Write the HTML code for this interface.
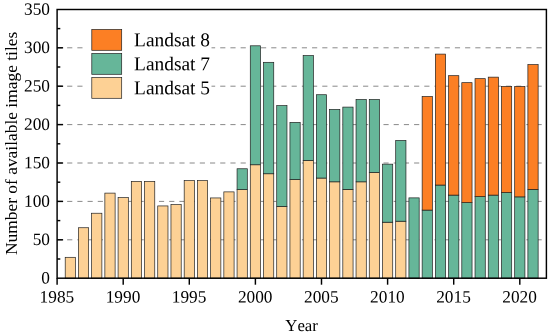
<!DOCTYPE html><html><head><meta charset="utf-8"><title>Landsat tiles</title>
<style>html,body{margin:0;padding:0;background:#fff}svg{display:block}text{font-family:"Liberation Serif","Times New Roman",serif;fill:#000;font-kerning:none}</style></head><body>
<svg width="550" height="335" viewBox="0 0 550 335">
<rect width="550" height="335" fill="#fff"/>
<line x1="56.95" x2="546.40" y1="239.80" y2="239.80" stroke="#7c7c7c" stroke-width="0.9" stroke-dasharray="5.15 5.054"/>
<line x1="56.95" x2="546.40" y1="201.40" y2="201.40" stroke="#7c7c7c" stroke-width="0.9" stroke-dasharray="5.15 5.054"/>
<line x1="56.95" x2="546.40" y1="163.00" y2="163.00" stroke="#7c7c7c" stroke-width="0.9" stroke-dasharray="5.15 5.054"/>
<line x1="56.95" x2="546.40" y1="124.60" y2="124.60" stroke="#7c7c7c" stroke-width="0.9" stroke-dasharray="5.15 5.054"/>
<line x1="56.95" x2="546.40" y1="86.20" y2="86.20" stroke="#7c7c7c" stroke-width="0.9" stroke-dasharray="5.15 5.054"/>
<line x1="56.95" x2="546.40" y1="47.80" y2="47.80" stroke="#7c7c7c" stroke-width="0.9" stroke-dasharray="5.15 5.054"/>
<rect x="65.20" y="257.31" width="10.25" height="20.89" fill="#fdd195" stroke="#1c1c1c" stroke-width="0.68"/>
<rect x="78.42" y="227.74" width="10.25" height="50.46" fill="#fdd195" stroke="#1c1c1c" stroke-width="0.68"/>
<rect x="91.64" y="213.23" width="10.25" height="64.97" fill="#fdd195" stroke="#1c1c1c" stroke-width="0.68"/>
<rect x="104.86" y="193.11" width="10.25" height="85.09" fill="#fdd195" stroke="#1c1c1c" stroke-width="0.68"/>
<rect x="118.08" y="197.64" width="10.25" height="80.56" fill="#fdd195" stroke="#1c1c1c" stroke-width="0.68"/>
<rect x="131.30" y="181.36" width="10.25" height="96.84" fill="#fdd195" stroke="#1c1c1c" stroke-width="0.68"/>
<rect x="144.52" y="181.36" width="10.25" height="96.84" fill="#fdd195" stroke="#1c1c1c" stroke-width="0.68"/>
<rect x="157.74" y="205.93" width="10.25" height="72.27" fill="#fdd195" stroke="#1c1c1c" stroke-width="0.68"/>
<rect x="170.96" y="204.63" width="10.25" height="73.57" fill="#fdd195" stroke="#1c1c1c" stroke-width="0.68"/>
<rect x="184.18" y="180.59" width="10.25" height="97.61" fill="#fdd195" stroke="#1c1c1c" stroke-width="0.68"/>
<rect x="197.40" y="180.59" width="10.25" height="97.61" fill="#fdd195" stroke="#1c1c1c" stroke-width="0.68"/>
<rect x="210.62" y="197.94" width="10.25" height="80.26" fill="#fdd195" stroke="#1c1c1c" stroke-width="0.68"/>
<rect x="223.84" y="191.88" width="10.25" height="86.32" fill="#fdd195" stroke="#1c1c1c" stroke-width="0.68"/>
<rect x="237.06" y="189.65" width="10.25" height="88.55" fill="#fdd195" stroke="#1c1c1c" stroke-width="0.68"/>
<rect x="250.28" y="164.77" width="10.25" height="113.43" fill="#fdd195" stroke="#1c1c1c" stroke-width="0.68"/>
<rect x="263.50" y="173.75" width="10.25" height="104.45" fill="#fdd195" stroke="#1c1c1c" stroke-width="0.68"/>
<rect x="276.72" y="206.39" width="10.25" height="71.81" fill="#fdd195" stroke="#1c1c1c" stroke-width="0.68"/>
<rect x="289.94" y="179.51" width="10.25" height="98.69" fill="#fdd195" stroke="#1c1c1c" stroke-width="0.68"/>
<rect x="303.16" y="160.47" width="10.25" height="117.73" fill="#fdd195" stroke="#1c1c1c" stroke-width="0.68"/>
<rect x="316.38" y="178.05" width="10.25" height="100.15" fill="#fdd195" stroke="#1c1c1c" stroke-width="0.68"/>
<rect x="329.60" y="181.82" width="10.25" height="96.38" fill="#fdd195" stroke="#1c1c1c" stroke-width="0.68"/>
<rect x="342.82" y="189.34" width="10.25" height="88.86" fill="#fdd195" stroke="#1c1c1c" stroke-width="0.68"/>
<rect x="356.04" y="181.82" width="10.25" height="96.38" fill="#fdd195" stroke="#1c1c1c" stroke-width="0.68"/>
<rect x="369.26" y="172.45" width="10.25" height="105.75" fill="#fdd195" stroke="#1c1c1c" stroke-width="0.68"/>
<rect x="382.48" y="222.21" width="10.25" height="55.99" fill="#fdd195" stroke="#1c1c1c" stroke-width="0.68"/>
<rect x="395.70" y="221.21" width="10.25" height="56.99" fill="#fdd195" stroke="#1c1c1c" stroke-width="0.68"/>
<rect x="237.06" y="168.76" width="10.25" height="20.89" fill="#66b699" stroke="#1c1c1c" stroke-width="0.68"/>
<rect x="250.28" y="45.80" width="10.25" height="118.96" fill="#66b699" stroke="#1c1c1c" stroke-width="0.68"/>
<rect x="263.50" y="62.32" width="10.25" height="111.44" fill="#66b699" stroke="#1c1c1c" stroke-width="0.68"/>
<rect x="276.72" y="105.63" width="10.25" height="100.76" fill="#66b699" stroke="#1c1c1c" stroke-width="0.68"/>
<rect x="289.94" y="122.37" width="10.25" height="57.14" fill="#66b699" stroke="#1c1c1c" stroke-width="0.68"/>
<rect x="303.16" y="55.56" width="10.25" height="104.91" fill="#66b699" stroke="#1c1c1c" stroke-width="0.68"/>
<rect x="316.38" y="94.72" width="10.25" height="83.33" fill="#66b699" stroke="#1c1c1c" stroke-width="0.68"/>
<rect x="329.60" y="109.39" width="10.25" height="72.42" fill="#66b699" stroke="#1c1c1c" stroke-width="0.68"/>
<rect x="342.82" y="107.09" width="10.25" height="82.25" fill="#66b699" stroke="#1c1c1c" stroke-width="0.68"/>
<rect x="356.04" y="99.49" width="10.25" height="82.33" fill="#66b699" stroke="#1c1c1c" stroke-width="0.68"/>
<rect x="369.26" y="99.49" width="10.25" height="72.96" fill="#66b699" stroke="#1c1c1c" stroke-width="0.68"/>
<rect x="382.48" y="164.15" width="10.25" height="58.06" fill="#66b699" stroke="#1c1c1c" stroke-width="0.68"/>
<rect x="395.70" y="140.42" width="10.25" height="80.79" fill="#66b699" stroke="#1c1c1c" stroke-width="0.68"/>
<rect x="408.92" y="197.87" width="10.25" height="80.33" fill="#66b699" stroke="#1c1c1c" stroke-width="0.68"/>
<rect x="422.14" y="210.08" width="10.25" height="68.12" fill="#66b699" stroke="#1c1c1c" stroke-width="0.68"/>
<rect x="435.36" y="185.04" width="10.25" height="93.16" fill="#66b699" stroke="#1c1c1c" stroke-width="0.68"/>
<rect x="448.58" y="195.10" width="10.25" height="83.10" fill="#66b699" stroke="#1c1c1c" stroke-width="0.68"/>
<rect x="461.80" y="202.63" width="10.25" height="75.57" fill="#66b699" stroke="#1c1c1c" stroke-width="0.68"/>
<rect x="475.02" y="196.64" width="10.25" height="81.56" fill="#66b699" stroke="#1c1c1c" stroke-width="0.68"/>
<rect x="488.24" y="195.10" width="10.25" height="83.10" fill="#66b699" stroke="#1c1c1c" stroke-width="0.68"/>
<rect x="501.46" y="192.57" width="10.25" height="85.63" fill="#66b699" stroke="#1c1c1c" stroke-width="0.68"/>
<rect x="514.68" y="196.87" width="10.25" height="81.33" fill="#66b699" stroke="#1c1c1c" stroke-width="0.68"/>
<rect x="527.89" y="189.34" width="10.25" height="88.86" fill="#66b699" stroke="#1c1c1c" stroke-width="0.68"/>
<rect x="422.14" y="96.49" width="10.25" height="113.59" fill="#fc7f24" stroke="#1c1c1c" stroke-width="0.68"/>
<rect x="435.36" y="54.10" width="10.25" height="130.94" fill="#fc7f24" stroke="#1c1c1c" stroke-width="0.68"/>
<rect x="448.58" y="75.68" width="10.25" height="119.42" fill="#fc7f24" stroke="#1c1c1c" stroke-width="0.68"/>
<rect x="461.80" y="82.67" width="10.25" height="119.96" fill="#fc7f24" stroke="#1c1c1c" stroke-width="0.68"/>
<rect x="475.02" y="78.67" width="10.25" height="117.96" fill="#fc7f24" stroke="#1c1c1c" stroke-width="0.68"/>
<rect x="488.24" y="77.14" width="10.25" height="117.96" fill="#fc7f24" stroke="#1c1c1c" stroke-width="0.68"/>
<rect x="501.46" y="86.43" width="10.25" height="106.14" fill="#fc7f24" stroke="#1c1c1c" stroke-width="0.68"/>
<rect x="514.68" y="86.43" width="10.25" height="110.44" fill="#fc7f24" stroke="#1c1c1c" stroke-width="0.68"/>
<rect x="527.89" y="64.62" width="10.25" height="124.72" fill="#fc7f24" stroke="#1c1c1c" stroke-width="0.68"/>
<line x1="57.10" x2="60.30" y1="259.00" y2="259.00" stroke="#000" stroke-width="1.45"/>
<line x1="57.10" x2="63.10" y1="239.80" y2="239.80" stroke="#000" stroke-width="1.45"/>
<line x1="57.10" x2="60.30" y1="220.60" y2="220.60" stroke="#000" stroke-width="1.45"/>
<line x1="57.10" x2="63.10" y1="201.40" y2="201.40" stroke="#000" stroke-width="1.45"/>
<line x1="57.10" x2="60.30" y1="182.20" y2="182.20" stroke="#000" stroke-width="1.45"/>
<line x1="57.10" x2="63.10" y1="163.00" y2="163.00" stroke="#000" stroke-width="1.45"/>
<line x1="57.10" x2="60.30" y1="143.80" y2="143.80" stroke="#000" stroke-width="1.45"/>
<line x1="57.10" x2="63.10" y1="124.60" y2="124.60" stroke="#000" stroke-width="1.45"/>
<line x1="57.10" x2="60.30" y1="105.40" y2="105.40" stroke="#000" stroke-width="1.45"/>
<line x1="57.10" x2="63.10" y1="86.20" y2="86.20" stroke="#000" stroke-width="1.45"/>
<line x1="57.10" x2="60.30" y1="67.00" y2="67.00" stroke="#000" stroke-width="1.45"/>
<line x1="57.10" x2="63.10" y1="47.80" y2="47.80" stroke="#000" stroke-width="1.45"/>
<line x1="57.10" x2="60.30" y1="28.60" y2="28.60" stroke="#000" stroke-width="1.45"/>
<line x1="57.10" x2="57.10" y1="278.20" y2="284.70" stroke="#000" stroke-width="1.45"/>
<line x1="123.20" x2="123.20" y1="278.20" y2="284.70" stroke="#000" stroke-width="1.45"/>
<line x1="189.30" x2="189.30" y1="278.20" y2="284.70" stroke="#000" stroke-width="1.45"/>
<line x1="255.40" x2="255.40" y1="278.20" y2="284.70" stroke="#000" stroke-width="1.45"/>
<line x1="321.50" x2="321.50" y1="278.20" y2="284.70" stroke="#000" stroke-width="1.45"/>
<line x1="387.60" x2="387.60" y1="278.20" y2="284.70" stroke="#000" stroke-width="1.45"/>
<line x1="453.70" x2="453.70" y1="278.20" y2="284.70" stroke="#000" stroke-width="1.45"/>
<line x1="519.80" x2="519.80" y1="278.20" y2="284.70" stroke="#000" stroke-width="1.45"/>
<rect x="57.10" y="9.50" width="489.30" height="268.70" fill="none" stroke="#000" stroke-width="1.45"/>
<text transform="translate(49.95,283.50) rotate(0.1)" font-size="17.3" text-anchor="end">0</text>
<text transform="translate(49.95,245.10) rotate(0.1)" font-size="17.3" text-anchor="end">50</text>
<text transform="translate(49.95,206.70) rotate(0.1)" font-size="17.3" text-anchor="end">100</text>
<text transform="translate(49.95,168.30) rotate(0.1)" font-size="17.3" text-anchor="end">150</text>
<text transform="translate(49.95,129.90) rotate(0.1)" font-size="17.3" text-anchor="end">200</text>
<text transform="translate(49.95,91.50) rotate(0.1)" font-size="17.3" text-anchor="end">250</text>
<text transform="translate(49.95,53.10) rotate(0.1)" font-size="17.3" text-anchor="end">300</text>
<text transform="translate(49.95,14.70) rotate(0.1)" font-size="17.3" text-anchor="end">350</text>
<text transform="translate(56.90,302.50) rotate(0.1)" font-size="17.3" text-anchor="middle">1985</text>
<text transform="translate(123.00,302.50) rotate(0.1)" font-size="17.3" text-anchor="middle">1990</text>
<text transform="translate(189.10,302.50) rotate(0.1)" font-size="17.3" text-anchor="middle">1995</text>
<text transform="translate(255.20,302.50) rotate(0.1)" font-size="17.3" text-anchor="middle">2000</text>
<text transform="translate(321.30,302.50) rotate(0.1)" font-size="17.3" text-anchor="middle">2005</text>
<text transform="translate(387.40,302.50) rotate(0.1)" font-size="17.3" text-anchor="middle">2010</text>
<text transform="translate(453.50,302.50) rotate(0.1)" font-size="17.3" text-anchor="middle">2015</text>
<text transform="translate(519.60,302.50) rotate(0.1)" font-size="17.3" text-anchor="middle">2020</text>
<text transform="translate(301.60,331.05) rotate(0.1)" font-size="16.8" text-anchor="middle">Year</text>
<text transform="translate(16.70,143.40) rotate(-90) scale(1.043,1)" font-size="16.7" text-anchor="middle">Number of available image tiles</text>
<rect x="84" y="25" width="127.5" height="78" fill="#fff"/>
<rect x="91.8" y="29.5" width="29.9" height="20.8" fill="#fc7f24" stroke="#1c1c1c" stroke-width="0.68"/>
<text transform="translate(134.05,46.20) rotate(0.1)" font-size="19.4" text-anchor="start">Landsat 8</text>
<rect x="91.8" y="53.5" width="29.9" height="20.8" fill="#66b699" stroke="#1c1c1c" stroke-width="0.68"/>
<text transform="translate(134.05,70.20) rotate(0.1)" font-size="19.4" text-anchor="start">Landsat 7</text>
<rect x="91.8" y="77.5" width="29.9" height="20.8" fill="#fdd195" stroke="#1c1c1c" stroke-width="0.68"/>
<text transform="translate(134.05,94.20) rotate(0.1)" font-size="19.4" text-anchor="start">Landsat 5</text>
</svg></body></html>
